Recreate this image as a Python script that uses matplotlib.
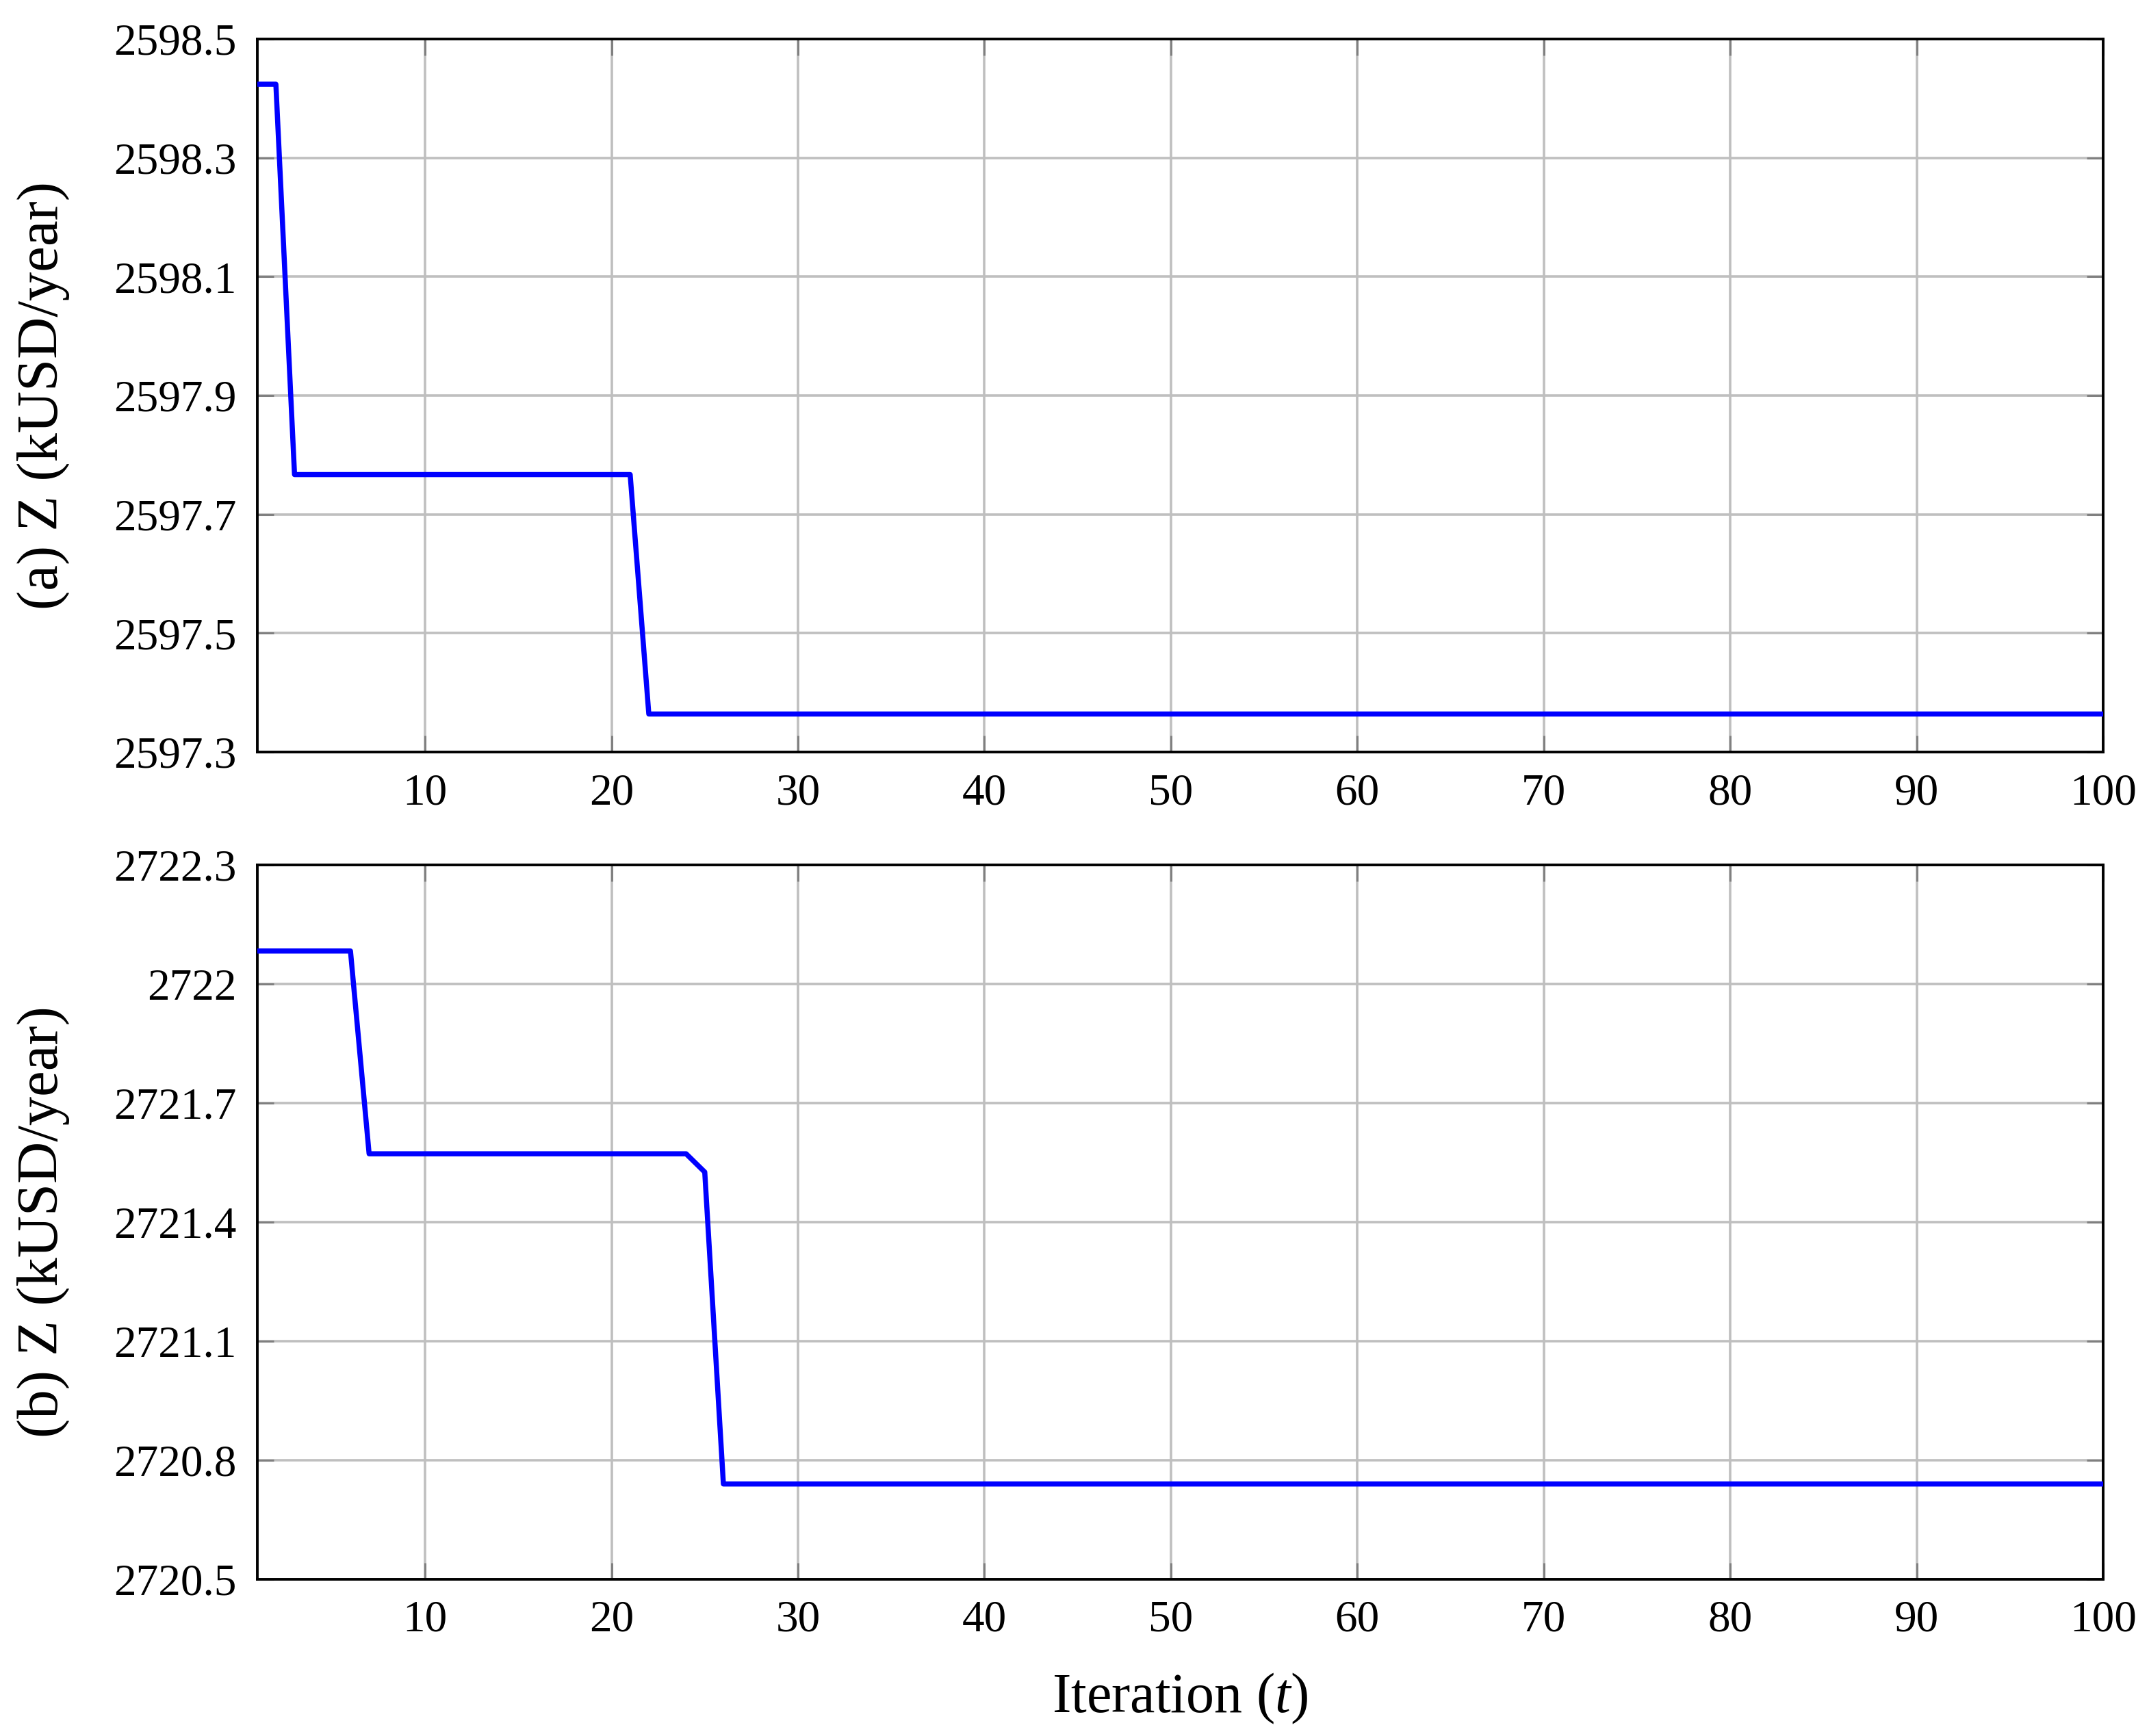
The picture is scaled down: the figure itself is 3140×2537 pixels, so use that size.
import numpy as np
import matplotlib
matplotlib.use('Agg')
import matplotlib.pyplot as plt

plt.rcParams['font.family'] = ['Liberation Serif', 'DejaVu Serif']
plt.rcParams['mathtext.fontset'] = 'custom'
plt.rcParams['mathtext.rm'] = 'Liberation Serif'
plt.rcParams['mathtext.it'] = 'Liberation Serif:italic'

# breakpoints of the convergence curves
iter_a = [1, 2, 3, 21, 22, 100]
z_a = [2598.424, 2598.424, 2597.767, 2597.767, 2597.364, 2597.364]

iter_b = [1, 6, 7, 24, 25, 26, 100]
z_b = [2722.083, 2722.083, 2721.572, 2721.572, 2721.526, 2720.740, 2720.740]

xticks = [10, 20, 30, 40, 50, 60, 70, 80, 90, 100]
yticks_a = [2597.3, 2597.5, 2597.7, 2597.9, 2598.1, 2598.3, 2598.5]
yticks_b = [2720.5, 2720.8, 2721.1, 2721.4, 2721.7, 2722.0, 2722.3]

ylabel_a = '(a) Z (kUSD/year)'
ylabel_b = '(b) Z (kUSD/year)'
xlabel = 'Iteration ($t$)'

fig = plt.figure(figsize=(15.7, 12.685), dpi=200)
ax1 = fig.add_axes([0.1197, 0.5668, 0.8590, 0.4107])
ax2 = fig.add_axes([0.1197, 0.0903, 0.8590, 0.4115])

for ax, xs, ys, yt, yl in [(ax1, iter_a, z_a, yticks_a, ylabel_a),
                           (ax2, iter_b, z_b, yticks_b, ylabel_b)]:
    ax.plot(xs, ys, color='#0000ff', lw=2.7, zorder=3)
    ax.set_xlim(1, 100)
    ax.set_ylim(yt[0], yt[-1])
    ax.set_xticks(xticks)
    ax.set_yticks(yt)
    ax.set_yticklabels(['{:g}'.format(v) for v in yt])
    ax.grid(True, color='#bfbfbf', lw=1.3)
    ax.set_axisbelow(True)
    ax.tick_params(direction='in', length=8.8, width=1.1, color='#808080',
                   top=True, right=True, labelsize=23.5, pad=11)
    for s in ax.spines.values():
        s.set_linewidth(1.4)
    ax.set_ylabel(yl, fontsize=30.5)
    ax.yaxis.set_label_coords(-0.1016, 0.5)

ax2.set_xlabel(xlabel, fontsize=29.5, labelpad=16)

fig.savefig('out.png', dpi=200)
